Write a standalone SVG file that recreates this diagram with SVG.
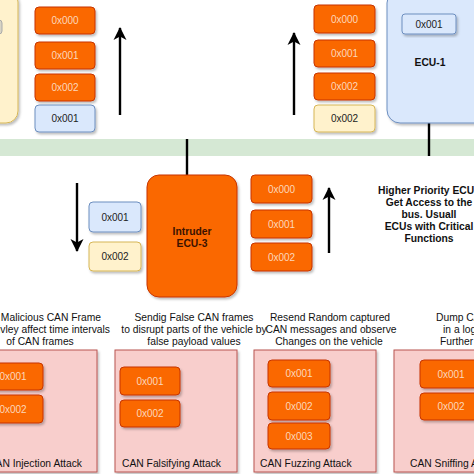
<svg xmlns="http://www.w3.org/2000/svg" width="474" height="474" viewBox="0 0 474 474">
<style>
.t{font-family:"Liberation Sans",Arial,sans-serif;font-size:10.3px;fill:#111;text-anchor:middle}
.b{font-weight:bold}
.fr{fill:#fa6800;stroke:#c73500;stroke-width:1}
.ft{font-family:"Liberation Sans",Arial,sans-serif;font-size:10px;fill:#fcd7bb;text-anchor:middle}
.dt{font-family:"Liberation Sans",Arial,sans-serif;font-size:10px;fill:#222;text-anchor:middle}
.blue{fill:#dae8fc;stroke:#6c8ebf;stroke-width:1}
.cream{fill:#fff2cc;stroke:#d6b656;stroke-width:1}
.pink{fill:#f8cecc;stroke:#b85450;stroke-width:1}
.ln{stroke:#000;stroke-width:2.4;fill:none}
.sh{filter:url(#shadow)}
</style>
<defs>
<filter id="shadow" x="-20%" y="-20%" width="140%" height="140%">
<feDropShadow dx="1.5" dy="2" stdDeviation="1" flood-color="#000" flood-opacity="0.25"/>
</filter>
<marker id="ah" markerWidth="14" markerHeight="14" refX="12" refY="7" orient="auto" markerUnits="userSpaceOnUse" viewBox="0 0 14 14">
<path d="M0,0.5 L13,7 L0,13.5 L3.5,7 Z" fill="#000"/>
</marker>
</defs>
<rect width="474" height="474" fill="#fff"/>

<!-- bus -->
<rect id="bus" x="-2" y="139" width="478" height="17" fill="#d5e8d4"/>

<g id="connectors">
<line class="ln" x1="187" y1="139" x2="187" y2="176"/>
<line class="ln" x1="429" y1="123" x2="429" y2="156"/>
<path d="M120,115 V28" class="ln" marker-end="url(#ah)"/>
<path d="M294,115 V33" class="ln" marker-end="url(#ah)"/>
<path d="M77,183 V251" class="ln" marker-end="url(#ah)"/>
<path d="M329,253 V188" class="ln" marker-end="url(#ah)"/>
<path d="M77,440 V374" class="ln" marker-end="url(#ah)"/>
<path d="M216,440 V383" class="ln" marker-end="url(#ah)"/>
<path d="M356,440 V374" class="ln" marker-end="url(#ah)"/>
</g>

<!-- left ECU (partial) -->
<g id="ecu-left">
<rect class="cream sh" x="-80" y="-10" width="98" height="133" rx="12"/>
<rect x="-40" y="20" width="42" height="14" rx="3" style="fill:#d8d4c4;stroke:#aaa"/>
</g>

<!-- ECU-1 -->
<g id="ecu1">
<rect class="blue sh" x="387" y="-10" width="100" height="133" rx="13"/>
<rect class="blue sh" x="402" y="14" width="54" height="20" rx="3"/>
<text class="dt" x="429" y="28">0x001</text>
<text class="t b" x="430" y="66">ECU-1</text>
</g>

<!-- top-left frames -->
<g id="tl-frames">
<rect class="fr sh" x="35" y="7" width="60" height="27" rx="4"/><text class="ft" x="65" y="24">0x000</text>
<rect class="fr sh" x="35" y="42" width="60" height="27" rx="4"/><text class="ft" x="65" y="59">0x001</text>
<rect class="fr sh" x="35" y="74" width="60" height="27" rx="4"/><text class="ft" x="65" y="91">0x002</text>
<rect class="blue sh" x="35" y="105" width="60" height="27" rx="4"/><text class="dt" x="65" y="122">0x001</text>
</g>

<!-- top-right frames -->
<g id="tr-frames">
<rect class="fr sh" x="314" y="5" width="61" height="28" rx="4"/><text class="ft" x="344.5" y="23">0x000</text>
<rect class="fr sh" x="314" y="40" width="61" height="27" rx="4"/><text class="ft" x="344.5" y="57">0x001</text>
<rect class="fr sh" x="314" y="73" width="61" height="27" rx="4"/><text class="ft" x="344.5" y="90">0x002</text>
<rect class="cream sh" x="314" y="105" width="61" height="27" rx="4"/><text class="dt" x="344.5" y="122">0x002</text>
</g>

<!-- Intruder -->
<g id="intruder">
<rect class="fr sh" x="147" y="175" width="90" height="122" rx="12"/>
<text class="t b" x="192" y="235" style="fill:#3a1200">Intruder</text>
<text class="t b" x="192" y="247" style="fill:#3a1200">ECU-3</text>
</g>

<g id="intruder-left">
<rect class="blue sh" x="89" y="202" width="52" height="30" rx="4"/><text class="dt" x="115" y="221">0x001</text>
<rect class="cream sh" x="89" y="242" width="52" height="29" rx="4"/><text class="dt" x="115" y="260">0x002</text>
</g>

<g id="intruder-right">
<rect class="fr sh" x="251" y="175" width="61" height="28" rx="4"/><text class="ft" x="281.5" y="193">0x000</text>
<rect class="fr sh" x="251" y="210" width="61" height="28" rx="4"/><text class="ft" x="281.5" y="228">0x001</text>
<rect class="fr sh" x="251" y="243" width="61" height="28" rx="4"/><text class="ft" x="281.5" y="261">0x002</text>
</g>

<g id="priority-note">
<text class="t b" x="429" y="194">Higher Priority ECUs</text>
<text class="t b" x="429" y="206">Get Access to the</text>
<text class="t b" x="429" y="218">bus. Usuall</text>
<text class="t b" x="429" y="230">ECUs with Critical</text>
<text class="t b" x="429" y="242">Functions</text>
</g>

<!-- captions -->
<g id="captions">
<text class="t" x="101" y="321" style="text-anchor:end">Malicious CAN Frame</text>
<text class="t" x="110" y="333" style="text-anchor:end">ivley affect time intervals</text>
<text class="t" x="40" y="345">of CAN frames</text>
<text class="t" x="194" y="321">Sendig False CAN frames</text>
<text class="t" x="194" y="333">to disrupt parts of the vehicle by</text>
<text class="t" x="194" y="345">false payload values</text>
<text class="t" x="330" y="321">Resend Random captured</text>
<text class="t" x="331" y="333">CAN messages and observe</text>
<text class="t" x="329" y="345">Changes on the vehicle</text>
<text class="t" x="436" y="321" style="text-anchor:start">Dump CAN</text>
<text class="t" x="443" y="333" style="text-anchor:start">in a log</text>
<text class="t" x="440" y="345" style="text-anchor:start">Further</text>
</g>

<!-- attack boxes -->
<g id="injection">
<rect class="pink sh" x="-5" y="350" width="102" height="122"/>
<rect class="fr sh" x="-17" y="363" width="60" height="27" rx="4"/><text class="ft" x="13" y="380">0x001</text>
<rect class="fr sh" x="-17" y="395" width="60" height="28" rx="4"/><text class="ft" x="13" y="413">0x002</text>
<text class="t" x="82" y="467" style="text-anchor:end">CAN Injection Attack</text>
</g>
<g id="falsifying">
<rect class="pink sh" x="115" y="350" width="122" height="122"/>
<rect class="fr sh" x="120" y="367" width="60" height="28" rx="4"/><text class="ft" x="150" y="385">0x001</text>
<rect class="fr sh" x="120" y="400" width="60" height="27" rx="4"/><text class="ft" x="150" y="417">0x002</text>
<text class="t" x="122" y="467" style="text-anchor:start">CAN Falsifying Attack</text>
</g>
<g id="fuzzing">
<rect class="pink sh" x="254" y="350" width="122" height="122"/>
<rect class="fr sh" x="268" y="360" width="62" height="27" rx="4"/><text class="ft" x="299" y="377">0x001</text>
<rect class="fr sh" x="268" y="392" width="62" height="28" rx="4"/><text class="ft" x="299" y="410">0x002</text>
<rect class="fr sh" x="268" y="423" width="62" height="26" rx="4"/><text class="ft" x="299" y="440">0x003</text>
<text class="t" x="260" y="467" style="text-anchor:start">CAN Fuzzing Attack</text>
</g>
<g id="sniffing">
<rect class="pink sh" x="394" y="350" width="100" height="122"/>
<rect class="fr sh" x="420" y="360" width="62" height="28" rx="4"/><text class="ft" x="451" y="378">0x001</text>
<rect class="fr sh" x="420" y="393" width="62" height="27" rx="4"/><text class="ft" x="451" y="410">0x002</text>
<text class="t" x="410" y="467" style="text-anchor:start">CAN Sniffing Attack</text>
</g>
</svg>
